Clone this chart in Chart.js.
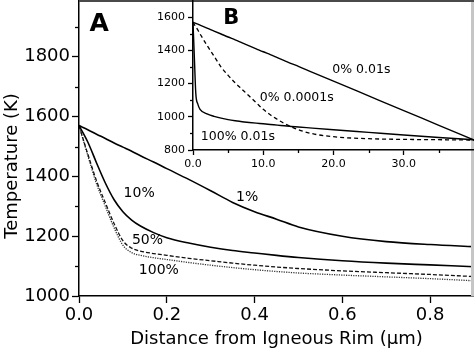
<!DOCTYPE html>
<html lang="en">
<head>
<meta charset="UTF-8">
<title>Temperature vs distance from igneous rim</title>
<script src="https://cdn.jsdelivr.net/npm/chart.js"></script>
<style>
  html, body { margin: 0; padding: 0; background: #fff; }
  #wrap { position: relative; width: 474px; height: 349px; overflow: hidden; }
  #mainChart { position: absolute; left: 0; top: 0; }
  #insetChart { position: absolute; left: 140px; top: 0; }
</style>
</head>
<body>
<div id="wrap">
  <canvas id="mainChart" width="474" height="349"></canvas>
  <canvas id="insetChart" width="334" height="172"></canvas>
</div>
<script>
// ---- Panel A: temperature (K) vs distance from igneous rim (um)
const distA   = [0, 0.02, 0.04, 0.06, 0.08, 0.1, 0.12, 0.14, 0.17, 0.2, 0.25, 0.3, 0.35, 0.4, 0.45, 0.5, 0.6, 0.7, 0.8, 0.9];
const melt1   = [1570, 1556, 1541, 1527, 1512, 1498, 1484, 1469, 1448, 1426, 1390, 1352, 1313, 1282, 1257, 1231, 1200, 1182, 1172, 1165];
const melt10  = [1570, 1515, 1445, 1378, 1322, 1282, 1254, 1234, 1212, 1195, 1177, 1163, 1152, 1144, 1136, 1129, 1118, 1110, 1104, 1098];
const melt50  = [1570, 1475, 1385, 1312, 1242, 1185, 1160, 1150, 1142, 1136, 1126, 1118, 1110, 1103, 1097, 1092, 1084, 1078, 1072, 1065];
const melt100 = [1570, 1470, 1375, 1300, 1228, 1170, 1145, 1136, 1128, 1122, 1112, 1103, 1095, 1088, 1082, 1077, 1070, 1064, 1058, 1051];
const xTicksA = [0, 0.2, 0.4, 0.6, 0.8];
const yTicksA = [1000, 1100, 1200, 1300, 1400, 1500, 1600, 1700, 1800, 1900];

// ---- Panel B (inset)
const distB      = [0, 0.2, 0.4, 0.7, 1, 2, 3, 4, 5, 6, 7, 8, 9, 10, 11, 12, 13, 14, 15, 17, 20, 25, 30, 35, 40];
const melt0_01s  = [1570, 1566, 1563, 1558, 1552, 1535, 1517, 1499, 1481, 1464, 1446, 1428, 1410, 1392, 1375, 1357, 1339, 1321, 1304, 1268, 1215, 1126, 1037, 949, 860];
const melt0_1e4s = [1570, 1556, 1543, 1522, 1500, 1430, 1365, 1300, 1250, 1205, 1165, 1125, 1085, 1045, 1012, 985, 960, 940, 922, 898, 880, 868, 864, 862, 860];
const melt100_01s= [1570, 1350, 1140, 1075, 1045, 1018, 1003, 992, 983, 976, 970, 966, 962, 958, 954, 950, 946, 942, 939, 932, 922, 906, 890, 875, 862];
const xTicksB = [0, 5, 10, 15, 20, 25, 30, 35];
const yTicksB = [800, 900, 1000, 1100, 1200, 1300, 1400, 1500, 1600];

const FONT = 'DejaVu Sans';

function pts(xs, ys) {
    return xs.map((x, i) => ({ x: x, y: ys[i] }));
}

// text labels, y title and short minor ticks drawn on top of the chart
const extrasPlugin = {
    id: 'extras',
    afterDraw(chart, args, opts) {
        const ctx = chart.ctx;
        const xs = chart.scales.x, ys = chart.scales.y;
        ctx.save();
        ctx.strokeStyle = '#000';
        ctx.lineWidth = 1.3;
        (opts.minorY || []).forEach(v => {
            const py = Math.round(ys.getPixelForValue(v)) + 0.5;
            ctx.beginPath();
            ctx.moveTo(xs.left - opts.minorLen, py);
            ctx.lineTo(xs.left, py);
            ctx.stroke();
        });
        (opts.minorX || []).forEach(v => {
            const px = Math.round(xs.getPixelForValue(v)) + 0.5;
            ctx.beginPath();
            ctx.moveTo(px, ys.bottom);
            ctx.lineTo(px, ys.bottom + opts.minorLen);
            ctx.stroke();
        });
        ctx.fillStyle = '#000';
        ctx.textAlign = 'center';
        ctx.textBaseline = 'middle';
        (opts.labels || []).forEach(l => {
            ctx.font = l.font;
            ctx.fillText(l.text, xs.getPixelForValue(l.x), ys.getPixelForValue(l.y));
        });
        if (opts.yTitle) {
            ctx.save();
            ctx.translate(opts.yTitle.px, opts.yTitle.py);
            ctx.rotate(-Math.PI / 2);
            ctx.font = '18px ' + FONT;
            ctx.fillText(opts.yTitle.text, 0, 0);
            ctx.restore();
        }
        if (opts.frame) {
            ctx.fillStyle = '#4a4a4a';
            ctx.fillRect(chart.chartArea.left, 0, chart.width - chart.chartArea.left, 2);
            ctx.fillStyle = '#c6c6c6';
            ctx.fillRect(chart.width - 3, 2, 3, chart.chartArea.bottom - 2);
        }
        ctx.restore();
    }
};

function axisStyle(size, tickLen, pad, majorOnly) {
    return {
        border: { display: true, color: '#000', width: 1.5 },
        grid: {
            display: true,
            drawOnChartArea: false,
            drawTicks: true,
            tickLength: tickLen,
            tickWidth: 1.3,
            tickColor: c => majorOnly(c.tick ? c.tick.value : 0) ? '#000' : 'rgba(0,0,0,0)'
        },
        ticks: {
            color: '#000',
            padding: pad,
            font: { family: FONT, size: size }
        }
    };
}

// ---------- main chart (A)
const isMajorYA = v => v % 200 === 0;
const mainY = axisStyle(18, 7, 2, isMajorYA);
mainY.min = 1000;
mainY.max = 1990;
mainY.afterBuildTicks = s => { s.ticks = yTicksA.map(v => ({ value: v })); };
mainY.ticks.callback = v => (isMajorYA(v) ? String(v) : '');
mainY.afterFit = s => { s.width = 79; s.paddingTop = 0; s.paddingBottom = 0; };

const mainX = axisStyle(18, 7, 2, () => true);
mainX.type = 'linear';
mainX.min = 0;
mainX.max = 0.9;
mainX.afterBuildTicks = s => { s.ticks = xTicksA.map(v => ({ value: v })); };
mainX.ticks.callback = v => v.toFixed(1);
mainX.afterFit = s => { s.height = 53; s.paddingLeft = 0; s.paddingRight = 0; };
mainX.title = { display: true, text: 'Distance from Igneous Rim (\u03bcm)', color: '#000', padding: { top: 0, bottom: -1.5 }, font: { family: FONT, size: 18 } };

new Chart(document.getElementById('mainChart'), {
    type: 'line',
    data: {
        datasets: [
            { label: '1%', data: pts(distA, melt1), borderColor: '#000', borderWidth: 1.6 },
            { label: '10%', data: pts(distA, melt10), borderColor: '#000', borderWidth: 1.6 },
            { label: '50%', data: pts(distA, melt50), borderColor: '#111', borderWidth: 1.3, borderDash: [4, 2] },
            { label: '100%', data: pts(distA, melt100), borderColor: '#333', borderWidth: 1.3, borderDash: [1.2, 1.2] }
        ]
    },
    options: {
        responsive: false,
        animation: false,
        devicePixelRatio: 1,
        layout: { padding: 0 },
        elements: { point: { radius: 0 }, line: { cubicInterpolationMode: 'monotone' } },
        plugins: {
            legend: { display: false },
            tooltip: { enabled: false },
            extras: {
                frame: true,
                minorLen: 4,
                minorY: yTicksA.filter(v => !isMajorYA(v)),
                yTitle: { text: 'Temperature (K)', px: 12, py: 166 },
                labels: [
                    { text: 'A', x: 0.046, y: 1909, font: 'bold 25px ' + FONT },
                    { text: '1%', x: 0.383, y: 1331, font: '14px ' + FONT },
                    { text: '10%', x: 0.137, y: 1344, font: '14px ' + FONT },
                    { text: '50%', x: 0.156, y: 1187, font: '14px ' + FONT },
                    { text: '100%', x: 0.182, y: 1087, font: '14px ' + FONT }
                ]
            }
        },
        scales: { x: mainX, y: mainY }
    },
    plugins: [extrasPlugin]
});

// ---------- inset chart (B)
const isMajorYB = v => v % 200 === 0;
const isMajorXB = v => v % 10 === 0;
const insetY = axisStyle(11, 5, 3, isMajorYB);
insetY.min = 800;
insetY.max = 1704;
insetY.afterBuildTicks = s => { s.ticks = yTicksB.map(v => ({ value: v })); };
insetY.ticks.callback = v => (isMajorYB(v) ? String(v) : '');
insetY.afterFit = s => { s.width = 53; s.paddingTop = 0; s.paddingBottom = 0; };

const insetX = axisStyle(11, 5, 3, isMajorXB);
insetX.type = 'linear';
insetX.min = 0;
insetX.max = 40;
insetX.afterBuildTicks = s => { s.ticks = xTicksB.map(v => ({ value: v })); };
insetX.ticks.callback = v => (isMajorXB(v) ? v.toFixed(1) : '');
insetX.afterFit = s => { s.height = 22; s.paddingLeft = 0; s.paddingRight = 0; };

new Chart(document.getElementById('insetChart'), {
    type: 'line',
    data: {
        datasets: [
            { label: '0% 0.01s', data: pts(distB, melt0_01s), borderColor: '#000', borderWidth: 1.4 },
            { label: '0% 0.0001s', data: pts(distB, melt0_1e4s), borderColor: '#000', borderWidth: 1.3, borderDash: [4, 3] },
            { label: '100% 0.01s', data: pts(distB, melt100_01s), borderColor: '#000', borderWidth: 1.4 }
        ]
    },
    options: {
        responsive: false,
        animation: false,
        devicePixelRatio: 1,
        layout: { padding: 0 },
        elements: { point: { radius: 0 }, line: { cubicInterpolationMode: 'monotone' } },
        plugins: {
            legend: { display: false },
            tooltip: { enabled: false },
            extras: {
                minorLen: 3,
                minorY: yTicksB.filter(v => !isMajorYB(v)),
                minorX: xTicksB.filter(v => !isMajorXB(v)),
                labels: [
                    { text: 'B', x: 5.46, y: 1590, font: 'bold 21px ' + FONT },
                    { text: '0% 0.01s', x: 23.96, y: 1282, font: '12.5px ' + FONT },
                    { text: '0% 0.0001s', x: 14.77, y: 1112, font: '12.5px ' + FONT },
                    { text: '100% 0.01s', x: 6.39, y: 878, font: '12.5px ' + FONT }
                ]
            }
        },
        scales: { x: insetX, y: insetY }
    },
    plugins: [extrasPlugin]
});
</script>
</body>
</html>
